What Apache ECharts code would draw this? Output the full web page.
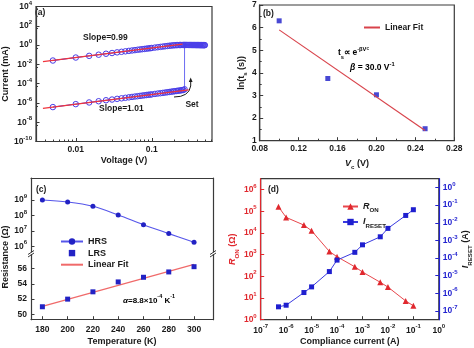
<!DOCTYPE html>
<html>
<head>
<meta charset="utf-8">
<script src="https://cdn.jsdelivr.net/npm/echarts@6/dist/echarts.min.js"></script>
<style>
  html, body { margin: 0; padding: 0; background: #fff; }
  #chart { width: 474px; height: 348px; }
</style>
</head>
<body>
<div id="chart"></div>
<script>
// ---------- (a) I–V sweep, current in mA ----------
const hrsVoltage = [0.005, 0.010, 0.015, 0.020, 0.025, 0.030, 0.035, 0.040, 0.045, 0.050,
  0.055, 0.060, 0.065, 0.070, 0.075, 0.080, 0.085, 0.090, 0.095, 0.100,
  0.11, 0.12, 0.13, 0.14, 0.15, 0.16, 0.17, 0.18, 0.19, 0.20,
  0.21, 0.22, 0.23, 0.24, 0.25, 0.26, 0.27];
const hrsCurrent = [3.7e-7, 7.5e-7, 1.12e-6, 1.5e-6, 1.9e-6, 2.25e-6, 2.65e-6, 3.0e-6, 3.4e-6, 3.8e-6,
  4.2e-6, 4.6e-6, 5.0e-6, 5.4e-6, 5.8e-6, 6.2e-6, 6.6e-6, 7.0e-6, 7.3e-6, 7.7e-6,
  8.6e-6, 9.4e-6, 1.02e-5, 1.1e-5, 1.19e-5, 1.28e-5, 1.37e-5, 1.46e-5, 1.55e-5, 1.64e-5,
  1.73e-5, 1.82e-5, 1.91e-5, 2.0e-5, 2.1e-5, 2.2e-5, 2.6e-5];
const lrsVoltage = [0.005, 0.010, 0.015, 0.020, 0.025, 0.030, 0.035, 0.040, 0.045, 0.050,
  0.055, 0.060, 0.065, 0.070, 0.075, 0.080, 0.085, 0.090, 0.095, 0.100,
  0.11, 0.12, 0.13, 0.14, 0.15, 0.16, 0.17, 0.18, 0.19, 0.20,
  0.21, 0.22, 0.23, 0.24, 0.25, 0.26, 0.27, 0.28, 0.29, 0.30,
  0.31, 0.32, 0.33, 0.34, 0.35, 0.36, 0.37, 0.38, 0.39, 0.40,
  0.41, 0.42, 0.43, 0.44, 0.45, 0.46, 0.47, 0.48, 0.49, 0.50];
const lrsCurrent = [0.025, 0.051, 0.076, 0.10, 0.126, 0.15, 0.176, 0.20, 0.225, 0.25,
  0.275, 0.30, 0.325, 0.35, 0.375, 0.40, 0.425, 0.45, 0.47, 0.50,
  0.55, 0.60, 0.65, 0.70, 0.75, 0.80, 0.85, 0.89, 0.93, 0.96,
  0.98, 1.00, 1.01, 1.02, 1.02, 1.03, 1.03, 1.03, 1.03, 1.02,
  1.02, 1.02, 1.02, 1.01, 1.01, 1.01, 1.01, 1.00, 1.00, 1.00,
  1.00, 1.00, 0.99, 0.99, 0.99, 0.99, 0.98, 0.98, 0.98, 0.98];
const setVoltage = 0.27;
const lrsFitVoltage = [0.0037, 0.254];
const lrsFitCurrent = [0.019, 1.25];
const hrsFitVoltage = [0.0037, 0.306];
const hrsFitCurrent = [2.7e-7, 2.3e-5];
const ivVoltageTicks = [0.01, 0.1];
const ivVoltageMinorTicks = [0.004, 0.005, 0.006, 0.007, 0.008, 0.009,
  0.02, 0.03, 0.04, 0.05, 0.06, 0.07, 0.08, 0.09, 0.2, 0.3, 0.4, 0.5, 0.6];

// ---------- (b) switching time vs. voltage ----------
const vcVoltage = [0.10, 0.15, 0.20, 0.25];
const lnSwitchTime = [6.3, 3.75, 3.03, 1.53];
const vcFitVoltage = [0.10, 0.25];
const vcFitLnTime = [5.9, 1.45];

// ---------- (c) resistance vs. temperature ----------
const temperatureK = [180, 200, 220, 240, 260, 280, 300];
const hrsResistance = [9.95e8, 7.4e8, 3.9e8, 1.07e8, 2.5e7, 6.6e6, 1.8e6];
const lrsResistance = [51.0, 52.0, 52.96, 54.26, 54.87, 55.57, 56.26];
const lrsFitTemp = [180, 300];
const lrsFitResistance = [51.04, 56.56];
const temperatureTicks = [180, 200, 220, 240, 260, 280, 300];
const hrsTicks = [1e6, 1e7, 1e8, 1e9];
const lrsTicks = [50, 52, 54, 56];

// ---------- (d) compliance current dependence ----------
const complianceCurrent = [5e-7, 1e-6, 5e-6, 1e-5, 5e-5, 1e-4, 5e-4, 1e-3, 5e-3, 1e-2, 5e-2, 1e-1];
const ronOhm = [1.6e5, 5.2e4, 2.3e4, 1.26e4, 1.4e3, 800, 275, 158, 53, 32, 7.3, 4.4];
const iResetA = [1.7e-7, 2.1e-7, 1.1e-6, 2.3e-6, 1.7e-5, 7.6e-5, 2.1e-4, 5.6e-4, 1.6e-3, 4.8e-3, 0.026, 0.055];
const ronTicks = [1, 1e1, 1e2, 1e3, 1e4, 1e5, 1e6];
const iResetTicks = [1e-7, 1e-6, 1e-5, 1e-4, 1e-3, 1e-2, 1e-1, 1];

// ---------- styling helpers ----------
const FONT = '"Liberation Sans", Arial, Helvetica, sans-serif';
const INK = '#1a1a1a';
const FRAME = '#3a3a3a';
const RED = '#e0282e';
const BLUE = '#1f1fcf';

function merge(a, b) {
  const out = Object.assign({}, a);
  for (const k in b) {
    const bv = b[k], av = a[k];
    if (bv && typeof bv === 'object' && !Array.isArray(bv) && typeof bv !== 'function'
        && av && typeof av === 'object' && !Array.isArray(av)) {
      out[k] = merge(av, bv);
    } else {
      out[k] = bv;
    }
  }
  return out;
}

function textRich(color, size) {
  size = size || 9;
  return {
    n: { fontFamily: FONT, fontSize: size, fontWeight: 'bold', color: color, lineHeight: 14 },
    i: { fontFamily: FONT, fontSize: size, fontWeight: 'bold', fontStyle: 'italic', color: color, lineHeight: 14 },
    sub: { fontFamily: FONT, fontSize: size * 0.68, fontWeight: 'bold', color: color, verticalAlign: 'bottom', lineHeight: 9 },
    sup: { fontFamily: FONT, fontSize: size * 0.68, fontWeight: 'bold', color: color, verticalAlign: 'top', lineHeight: 9 },
    b: { fontFamily: FONT, fontSize: 8.5, fontWeight: 'bold', color: color, lineHeight: 13 },
    s: { fontFamily: FONT, fontSize: 6, fontWeight: 'bold', color: color, verticalAlign: 'top', lineHeight: 8 }
  };
}
const powLabel = v => '{b|10}{s|' + Math.round(Math.log10(v)) + '}';

const axisBase = {
  nameLocation: 'middle',
  axisLine: { show: true, onZero: false, lineStyle: { color: FRAME, width: 1.2 } },
  axisTick: { show: true, inside: true, length: 3.5, lineStyle: { color: FRAME, width: 1 } },
  minorTick: { show: false },
  splitLine: { show: false },
  axisLabel: { fontFamily: FONT, fontSize: 8.5, fontWeight: 'bold', color: INK, margin: 4, rich: textRich(INK) },
  nameTextStyle: { fontFamily: FONT, fontSize: 9, fontWeight: 'bold', color: INK, rich: textRich(INK) }
};
const frameOnly = {
  axisLine: { show: true, onZero: false, lineStyle: { color: FRAME, width: 1.2 } },
  axisTick: { show: false },
  axisLabel: { show: false },
  splitLine: { show: false }
};
const zip = (xs, ys) => xs.map((x, i) => [x, ys[i]]);

const setLow = hrsCurrent[hrsCurrent.length - 1];
const setHigh = lrsCurrent[lrsVoltage.indexOf(setVoltage)];
const fitLegendItem = name => ({ name: name, itemStyle: { opacity: 0 }, lineStyle: { width: 2 } });

const option = {
  animation: false,
  backgroundColor: '#fff',
  grid: [
    { left: 31, top: 4, width: 181, height: 137.5, show: true, borderColor: FRAME, borderWidth: 1.2 },
    { left: 259.7, top: 5, width: 194.6, height: 135.7, show: true, borderColor: FRAME, borderWidth: 1.2 },
    { left: 31, top: 178, width: 182, height: 74 },
    { left: 31, top: 254.5, width: 182, height: 65.2 },
    { left: 260.7, top: 178.7, width: 182.3, height: 141, show: true, borderColor: FRAME, borderWidth: 1.2 }
  ],
  xAxis: [
    merge(axisBase, {
      gridIndex: 0, type: 'log', min: 0.003, max: 0.62, name: 'Voltage (V)', nameGap: 15,
      axisLabel: { customValues: ivVoltageTicks, formatter: v => String(parseFloat(v.toPrecision(3))) },
      axisTick: { customValues: ivVoltageTicks }
    }),
    merge(frameOnly, {
      gridIndex: 0, type: 'log', min: 0.003, max: 0.62, position: 'bottom',
      axisLine: { show: false },
      axisTick: { show: true, inside: true, length: 2, customValues: ivVoltageMinorTicks, lineStyle: { color: FRAME, width: 1 } }
    }),
    merge(axisBase, {
      gridIndex: 1, type: 'value', min: 0.08, max: 0.28, interval: 0.04,
      name: '{i|V}{sub|c}{n| (V)}', nameGap: 16,
      axisLabel: { formatter: v => v.toFixed(2), margin: 3 },
      minorTick: { show: true, splitNumber: 2, length: 2, lineStyle: { color: FRAME } }
    }),
    merge(frameOnly, { gridIndex: 2, type: 'value', min: 171, max: 315, position: 'top' }),
    merge(axisBase, {
      gridIndex: 3, type: 'value', min: 171, max: 315, name: 'Temperature (K)', nameGap: 17,
      axisLabel: { customValues: temperatureTicks, margin: 5 },
      axisTick: { customValues: temperatureTicks }
    }),
    merge(axisBase, {
      gridIndex: 4, type: 'log', min: 1e-7, max: 1, interval: 1,
      name: 'Compliance current (A)', nameGap: 17,
      axisLabel: { formatter: powLabel }
    })
  ],
  yAxis: [
    merge(axisBase, {
      gridIndex: 0, type: 'log', min: 1e-10, max: 1e4, interval: 2,
      name: 'Current (mA)', nameGap: 21,
      axisLabel: { formatter: powLabel },
      minorTick: { show: true, splitNumber: 2, length: 2, lineStyle: { color: FRAME } }
    }),
    merge(axisBase, {
      gridIndex: 1, type: 'value', min: 1, max: 7, interval: 1,
      name: '{n|ln(}{n|t}{sub|s}{n| (s))}', nameGap: 10,
      axisLabel: { margin: 3 },
      minorTick: { show: true, splitNumber: 2, length: 2, lineStyle: { color: FRAME } }
    }),
    merge(axisBase, {
      gridIndex: 2, type: 'log', min: Math.pow(10, 5.63), max: Math.pow(10, 10.42),
      axisLabel: { customValues: hrsTicks, formatter: powLabel },
      axisTick: { customValues: hrsTicks }
    }),
    merge(frameOnly, { gridIndex: 2, type: 'log', min: Math.pow(10, 5.63), max: Math.pow(10, 10.42), position: 'right' }),
    merge(axisBase, {
      gridIndex: 3, type: 'value', min: 49.3, max: 57.86,
      axisLabel: { customValues: lrsTicks },
      axisTick: { customValues: lrsTicks }
    }),
    merge(frameOnly, { gridIndex: 3, type: 'value', min: 49.3, max: 57.86, position: 'right' }),
    merge(axisBase, {
      gridIndex: 4, type: 'log', min: 1, max: Math.pow(10, 6.5), position: 'left', z: 3,
      name: '{i|R}{sub|ON}{n| (\u03a9)}', nameGap: 15,
      axisLine: { lineStyle: { color: RED } },
      axisTick: { customValues: ronTicks, lineStyle: { color: RED } },
      axisLabel: { customValues: ronTicks, formatter: powLabel, color: RED, rich: textRich(RED) },
      nameTextStyle: { color: RED, rich: textRich(RED) }
    }),
    merge(axisBase, {
      gridIndex: 4, type: 'log', min: Math.pow(10, -7.5), max: Math.pow(10, 0.5), position: 'right', z: 3,
      name: '{i|I}{sub|RESET}{n| (A)}', nameGap: 16,
      axisLine: { lineStyle: { color: BLUE } },
      axisTick: { customValues: iResetTicks, lineStyle: { color: BLUE } },
      axisLabel: { customValues: iResetTicks, formatter: powLabel, color: BLUE, rich: textRich(BLUE) }
    })
  ],
  legend: [
    {
      data: [fitLegendItem('Linear Fit (b)')], left: 358, top: 18, itemWidth: 16, itemHeight: 10,
      formatter: n => n.replace(/ \(.\)$/, ''),
      textStyle: { fontFamily: FONT, fontSize: 8.5, fontWeight: 'bold', color: INK }
    },
    {
      data: ['HRS', 'LRS', fitLegendItem('Linear Fit (c)')], orient: 'vertical', left: 55, top: 232,
      itemWidth: 22, itemHeight: 8, itemGap: 2.6,
      formatter: n => n.replace(/ \(.\)$/, ''),
      textStyle: { fontFamily: FONT, fontSize: 9, fontWeight: 'bold', color: INK }
    },
    {
      data: ['R_ON', 'I_RESET'], orient: 'vertical', left: 337, top: 197,
      itemWidth: 15, itemHeight: 8, itemGap: 4,
      formatter: n => n === 'R_ON' ? '{i|R}{sub|ON}' : '{i|I}{sub|RESET}',
      textStyle: { fontFamily: FONT, fontSize: 9, fontWeight: 'bold', color: INK, rich: textRich(INK) }
    }
  ],
  series: [
    // (a)
    {
      name: 'HRS sweep', type: 'line', xAxisIndex: 0, yAxisIndex: 0, data: zip(hrsVoltage, hrsCurrent),
      symbol: 'circle', symbolSize: 5.5, z: 2,
      itemStyle: { color: 'rgba(0,0,0,0)', borderColor: '#4a3ee8', borderWidth: 1 },
      lineStyle: { color: '#2424f2', width: 1 }
    },
    {
      name: 'LRS sweep', type: 'line', xAxisIndex: 0, yAxisIndex: 0, data: zip(lrsVoltage, lrsCurrent),
      symbol: 'circle', symbolSize: 5.5, z: 2,
      itemStyle: { color: 'rgba(0,0,0,0)', borderColor: '#4a3ee8', borderWidth: 1 },
      lineStyle: { color: '#2424f2', width: 1 }
    },
    {
      name: 'Set transition', type: 'line', xAxisIndex: 0, yAxisIndex: 0,
      data: [[setVoltage, setLow], [setVoltage, setHigh]], symbol: 'none', z: 1,
      lineStyle: { color: '#6c6cf2', width: 1 }
    },
    {
      name: 'LRS fit', type: 'line', xAxisIndex: 0, yAxisIndex: 0, data: zip(lrsFitVoltage, lrsFitCurrent),
      symbol: 'none', z: 3, lineStyle: { color: '#f0343c', width: 1.2 }
    },
    {
      name: 'HRS fit', type: 'line', xAxisIndex: 0, yAxisIndex: 0, data: zip(hrsFitVoltage, hrsFitCurrent),
      symbol: 'none', z: 3, lineStyle: { color: '#f0343c', width: 1.2 }
    },
    // (b)
    {
      name: 'Switching time', type: 'scatter', xAxisIndex: 2, yAxisIndex: 1, data: zip(vcVoltage, lnSwitchTime),
      symbol: 'rect', symbolSize: 5, itemStyle: { color: '#1a1ac8' }
    },
    {
      name: 'Linear Fit (b)', type: 'line', xAxisIndex: 2, yAxisIndex: 1, data: zip(vcFitVoltage, vcFitLnTime),
      symbol: 'none', itemStyle: { color: '#d8434b' }, lineStyle: { color: '#d8434b', width: 1.2 }
    },
    // (c)
    {
      name: 'HRS', type: 'line', xAxisIndex: 3, yAxisIndex: 2, data: zip(temperatureK, hrsResistance),
      smooth: 0.35, symbol: 'circle', symbolSize: 5,
      itemStyle: { color: '#2222c4' }, lineStyle: { color: '#5656ea', width: 1.1 }
    },
    {
      name: 'LRS', type: 'line', xAxisIndex: 4, yAxisIndex: 4, data: zip(temperatureK, lrsResistance),
      symbol: 'rect', symbolSize: 5, z: 3,
      itemStyle: { color: '#2222c4' }, lineStyle: { opacity: 0, width: 0 }
    },
    {
      name: 'Linear Fit (c)', type: 'line', xAxisIndex: 4, yAxisIndex: 4, data: zip(lrsFitTemp, lrsFitResistance),
      symbol: 'none', itemStyle: { color: '#f06a6a' }, lineStyle: { color: '#f06a6a', width: 1.2 }
    },
    // (d)
    {
      name: 'R_ON', type: 'line', xAxisIndex: 5, yAxisIndex: 6, data: zip(complianceCurrent, ronOhm),
      symbol: 'triangle', symbolSize: 6, z: 3,
      itemStyle: { color: RED }, lineStyle: { color: '#e8474c', width: 1 }
    },
    {
      name: 'I_RESET', type: 'line', xAxisIndex: 5, yAxisIndex: 7, data: zip(complianceCurrent, iResetA),
      symbol: 'rect', symbolSize: 5, z: 3,
      itemStyle: { color: BLUE }, lineStyle: { color: '#3a3ae0', width: 1 }
    }
  ],
  graphic: [
    { type: 'text', x: 35, y: 13, style: { text: '(a)', font: 'bold 8.5px ' + FONT, fill: INK, textVerticalAlign: 'middle' } },
    { type: 'text', x: 83, y: 38, style: { text: 'Slope=0.99', font: 'bold 8.5px ' + FONT, fill: INK, textVerticalAlign: 'middle' } },
    { type: 'text', x: 99, y: 109, style: { text: 'Slope=1.01', font: 'bold 8.5px ' + FONT, fill: INK, textVerticalAlign: 'middle' } },
    { type: 'text', x: 192, y: 105, style: { text: 'Set', font: 'bold 8.5px ' + FONT, fill: INK, textAlign: 'center', textVerticalAlign: 'middle' } },
    { type: 'bezierCurve', shape: { x1: 174, y1: 97, cpx1: 189, cpy1: 97, x2: 190.7, y2: 86 }, style: { stroke: INK, lineWidth: 1, fill: null } },
    { type: 'line', shape: { x1: 190.7, y1: 86, x2: 190.7, y2: 81 }, style: { stroke: INK, lineWidth: 1 } },
    { type: 'polygon', shape: { points: [[190.7, 77.5], [188.8, 82], [192.6, 82]] }, style: { fill: INK } },

    { type: 'text', x: 263, y: 14, style: { text: '(b)', font: 'bold 8.5px ' + FONT, fill: INK, textVerticalAlign: 'middle' } },
    { type: 'text', x: 338, y: 53, style: { text: '{n|t}{sub|s}{n|\u221d e}{sup|-\u03b2V}{tiny|c}', rich: Object.assign(textRich(INK, 8.5), { tiny: { fontFamily: FONT, fontSize: 4.5, fontWeight: 'bold', verticalAlign: 'top', lineHeight: 11, fill: INK } }), textVerticalAlign: 'middle' } },
    { type: 'text', x: 350, y: 68, style: { text: '{i|\u03b2}{n| = 30.0 V}{sup|-1}', rich: textRich(INK, 8.5), textVerticalAlign: 'middle' } },

    { type: 'text', x: 36, y: 190, style: { text: '(c)', font: 'bold 8.5px ' + FONT, fill: INK, textVerticalAlign: 'middle' } },
    { type: 'text', x: 6, y: 257, rotation: Math.PI / 2, style: { text: 'Resistance (\u03a9)', font: 'bold 9px ' + FONT, fill: INK, textAlign: 'center', textVerticalAlign: 'middle' } },
    { type: 'text', x: 123, y: 301, style: { text: '{i|\u03b1}{n|=8.8\u00d710}{sup|-4}{n| K}{sup|-1}', rich: textRich(INK, 8), textVerticalAlign: 'middle' } },
    // axis break marks
    { type: 'line', shape: { x1: 28, y1: 254.5, x2: 34, y2: 250.5 }, style: { stroke: FRAME, lineWidth: 1 } },
    { type: 'line', shape: { x1: 28, y1: 257, x2: 34, y2: 253 }, style: { stroke: FRAME, lineWidth: 1 } },
    { type: 'line', shape: { x1: 210, y1: 254.5, x2: 216, y2: 250.5 }, style: { stroke: FRAME, lineWidth: 1 } },
    { type: 'line', shape: { x1: 210, y1: 257, x2: 216, y2: 253 }, style: { stroke: FRAME, lineWidth: 1 } },

    { type: 'text', x: 268, y: 190, style: { text: '(d)', font: 'bold 8.5px ' + FONT, fill: INK, textVerticalAlign: 'middle' } }
  ]
};

const chart = echarts.init(document.getElementById('chart'), null, { renderer: 'canvas' });
chart.setOption(option);
</script>
</body>
</html>
